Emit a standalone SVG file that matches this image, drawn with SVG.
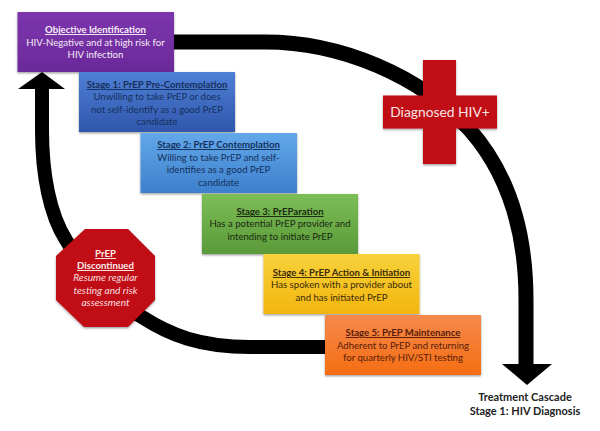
<svg xmlns="http://www.w3.org/2000/svg" width="600" height="431" viewBox="0 0 600 431">
<style>
text{font-family:Lato,"Open Sans","Liberation Sans",sans-serif;font-size:9.600px;text-anchor:middle}
.h{font-weight:700;text-decoration:underline}
.w{fill:#f6ecf6}
.d{fill:#15305c}
.k{fill:#1a2a12}
.y{fill:#3a2a08}
.o{fill:#5a1c08}
.b{stroke:#000;fill:none}
.i{font-style:italic;font-size:10.200px;fill:#f8dede}
.t{font-size:11px;font-weight:700;fill:#222}
</style>
<defs>
<linearGradient id="gp" x1="0" y1="0" x2="0" y2="1"><stop offset="0" stop-color="#7d35ad"/><stop offset="1" stop-color="#6a2a9a"/></linearGradient>
<linearGradient id="g1" x1="0" y1="0" x2="0" y2="1"><stop offset="0" stop-color="#4f7fd6"/><stop offset="1" stop-color="#2f57ac"/></linearGradient>
<linearGradient id="g2" x1="0" y1="0" x2="0" y2="1"><stop offset="0" stop-color="#62a8ea"/><stop offset="1" stop-color="#3d7fcb"/></linearGradient>
<linearGradient id="g3" x1="0" y1="0" x2="0" y2="1"><stop offset="0" stop-color="#7dbd56"/><stop offset="1" stop-color="#5a9a39"/></linearGradient>
<linearGradient id="g4" x1="0" y1="0" x2="0" y2="1"><stop offset="0" stop-color="#f7d23a"/><stop offset="1" stop-color="#f3b50f"/></linearGradient>
<linearGradient id="g5" x1="0" y1="0" x2="0" y2="1"><stop offset="0" stop-color="#f58a4c"/><stop offset="1" stop-color="#f56d12"/></linearGradient>
<filter id="s" x="-5%" y="-5%" width="110%" height="112%"><feDropShadow dx="0" dy="1.2" stdDeviation="0.8" flood-color="#000" flood-opacity="0.4"/></filter>
</defs>
<rect width="600" height="431" fill="#fff"/>
<g id="connectors">
<path class="b" stroke-width="15" d="M172 42 H265 C340 42 420 75 470 130 C505 170 526 225 526 300 V366"/>
<polygon points="502,364 552,364 527,385" fill="#000"/>
<path class="b" stroke-width="14" d="M42 87 V130 C42 175 50 215 66 240 C90 280 110 300 142 317 C170 335 200 347 250 347 H327"/>
<polygon points="18,89 65,89 42,72" fill="#000"/>
</g>
<g id="objective-identification">
<rect x="17.500" y="12" width="156.500" height="60" fill="url(#gp)" filter="url(#s)"/>
<text class="h w" x="95.500" y="33">Objective Identification</text>
<text class="w" x="95.500" y="46">HIV-Negative and at high risk for</text>
<text class="w" x="95.500" y="58">HIV infection</text>
</g>
<g id="stage-1">
<rect x="79" y="72" width="156" height="60" fill="url(#g1)" filter="url(#s)"/>
<text class="h d" x="157" y="88">Stage 1: PrEP Pre-Contemplation</text>
<text class="d" x="157" y="100">Unwilling to take PrEP or does</text>
<text class="d" x="157" y="113">not self-identify as a good PrEP</text>
<text class="d" x="157" y="125">candidate</text>
</g>
<g id="stage-2">
<rect x="140.500" y="133" width="156.500" height="60" fill="url(#g2)" filter="url(#s)"/>
<text class="h d" x="218.500" y="148">Stage 2: PrEP Contemplation</text>
<text class="d" x="218.500" y="161">Willing to take PrEP and self-</text>
<text class="d" x="218.500" y="173">identifies as a good PrEP</text>
<text class="d" x="218.500" y="186">candidate</text>
</g>
<g id="stage-3">
<rect x="202" y="194" width="156" height="60" fill="url(#g3)" filter="url(#s)"/>
<text class="h k" x="280" y="215">Stage 3: PrEParation</text>
<text class="k" x="280" y="227">Has a potential PrEP provider and</text>
<text class="k" x="280" y="240">intending to initiate PrEP</text>
</g>
<g id="stage-4">
<rect x="263.500" y="254" width="156" height="60" fill="url(#g4)" filter="url(#s)"/>
<text class="h y" x="341.500" y="276">Stage 4: PrEP Action &amp; Initiation</text>
<text class="y" x="341.500" y="288">Has spoken with a provider about</text>
<text class="y" x="341.500" y="301">and has initiated PrEP</text>
</g>
<g id="stage-5">
<rect x="325" y="315" width="156" height="60" fill="url(#g5)" filter="url(#s)"/>
<text class="h o" x="403" y="336">Stage 5: PrEP Maintenance</text>
<text class="o" x="403" y="349">Adherent to PrEP and returning</text>
<text class="o" x="403" y="361">for quarterly HIV/STI testing</text>
</g>
<g id="diagnosed-hiv">
<polygon points="423,60 456,60 456,95.500 497,95.500 497,128.500 456,128.500 456,164 423,164 423,128.500 383,128.500 383,95.500 423,95.500" fill="#c00d14" filter="url(#s)"/>
<text x="440" y="117" style="font-size:13.800px" fill="#f8e4e4">Diagnosed HIV+</text>
</g>
<g id="prep-discontinued">
<polygon points="85,229 128,229 155,256 155,300 128,327 84,327 56,300 56,256" fill="#c00d14" filter="url(#s)"/>
<text class="h" x="105.500" y="257" fill="#fbecec">PrEP</text>
<text class="h" x="105.500" y="269" fill="#fbecec">Discontinued</text>
<text class="i" x="105.500" y="281">Resume regular</text>
<text class="i" x="105.500" y="294">testing and risk</text>
<text class="i" x="105.500" y="306">assessment</text>
</g>
<g id="treatment-cascade">
<text class="t" x="525" y="401">Treatment Cascade</text>
<text class="t" x="525" y="415">Stage 1: HIV Diagnosis</text>
</g>
</svg>
